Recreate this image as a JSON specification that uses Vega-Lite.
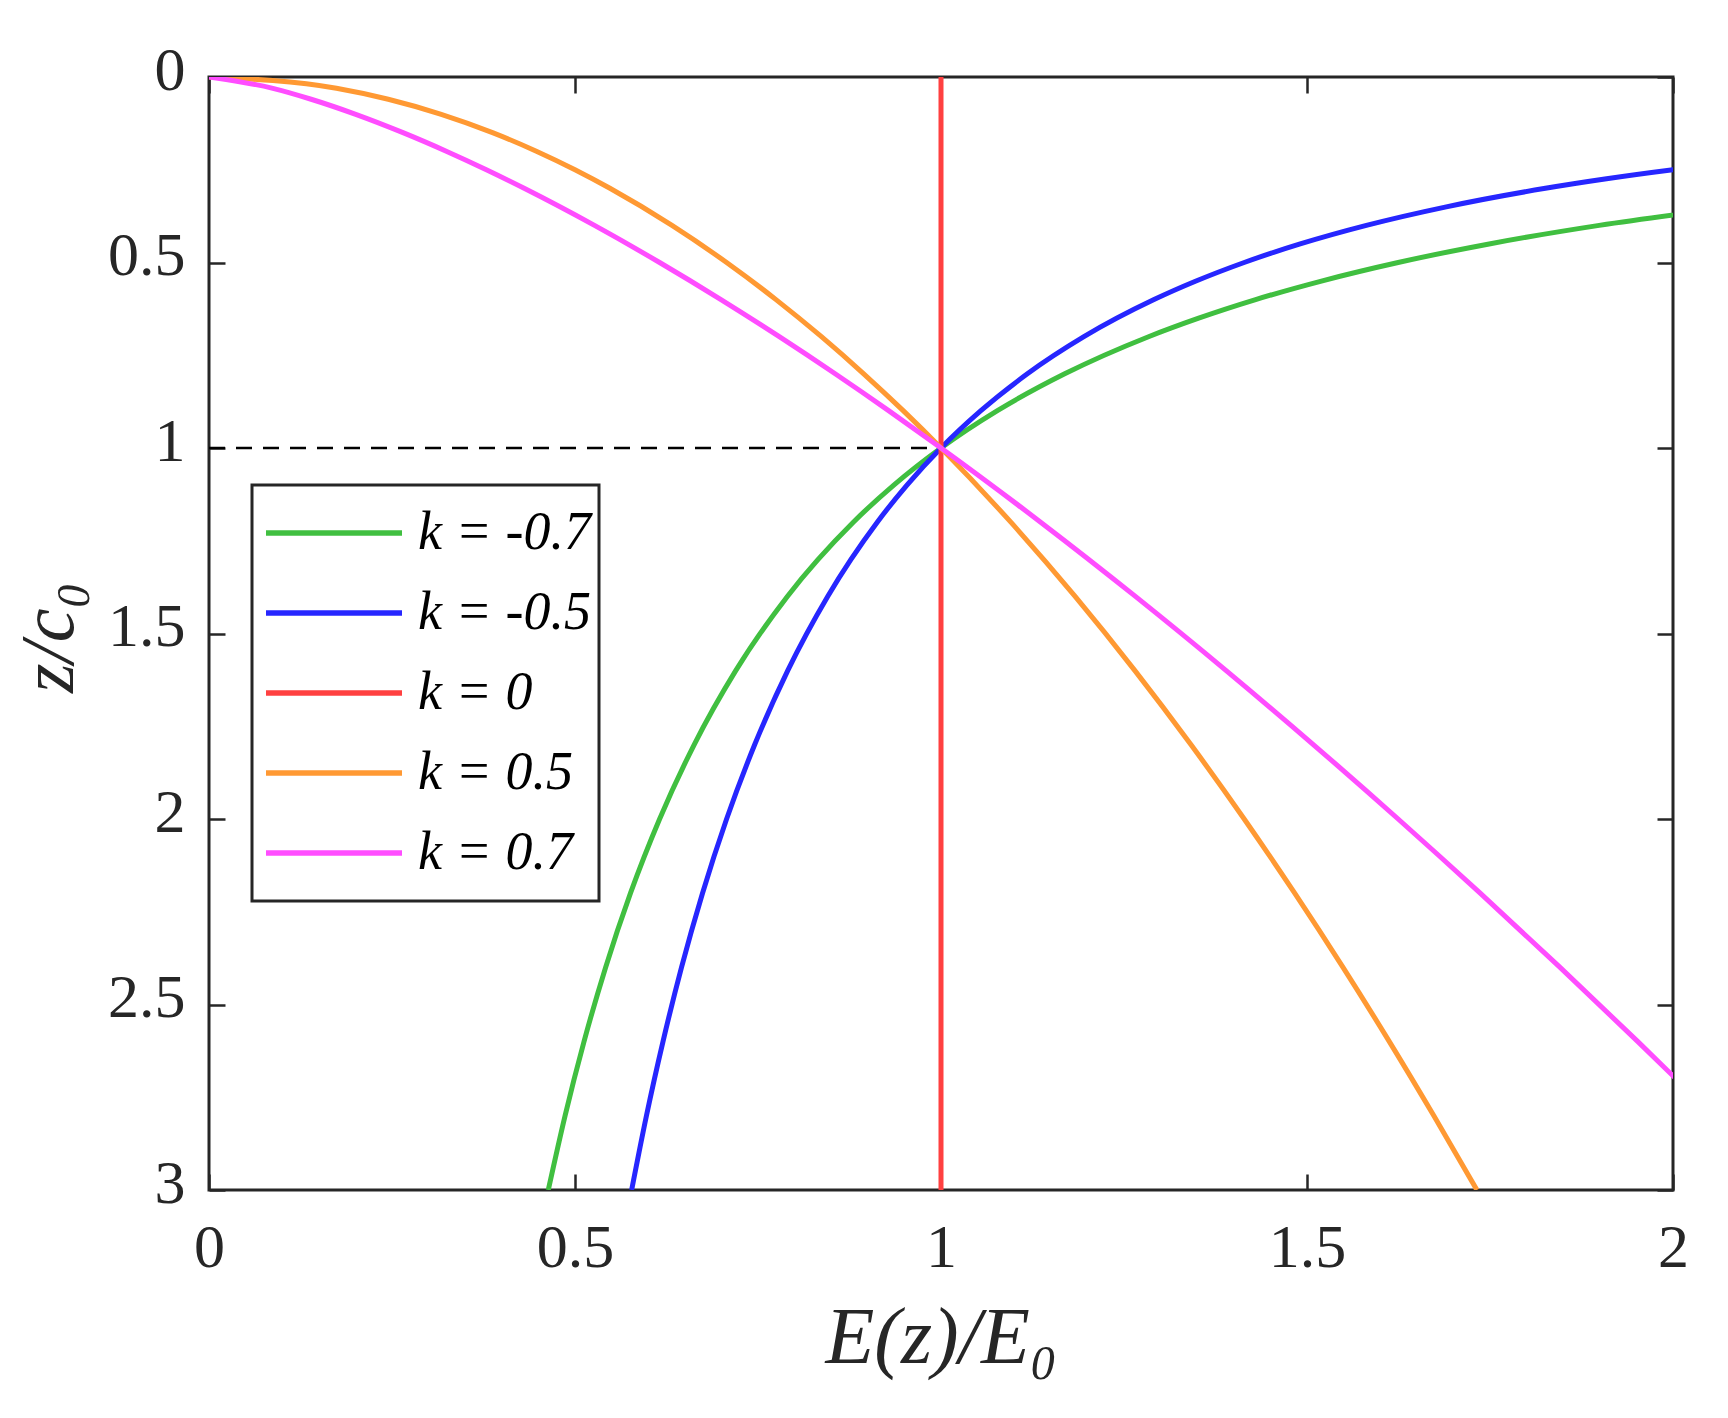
{
  "$schema": "https://vega.github.io/schema/vega-lite/v6.json",
  "width": 1464,
  "height": 1113,
  "autosize": {"type": "none"},
  "padding": {"left": 209, "top": 77, "right": 55, "bottom": 228},
  "background": "white",
  "config": {
    "view": {"stroke": "#262626", "strokeWidth": 3},
    "axis": {
      "grid": false,
      "domain": false,
      "tickColor": "#262626",
      "tickWidth": 2.5,
      "tickSize": -16,
      "labelColor": "#262626",
      "labelFont": "Liberation Serif",
      "labelFontSize": 62,
      "titleFont": "Liberation Serif",
      "titleFontStyle": "italic",
      "titleFontWeight": "normal",
      "titleFontSize": 72,
      "titleColor": "#262626",
      "labelFlush": false,
      "labelOverlap": false
    }
  },
  "datasets": {
    "curves": [
      {"k": "k = -0.7", "z": 0.35, "E": 2.0852},
      {"k": "k = -0.7", "z": 0.4, "E": 1.8991},
      {"k": "k = -0.7", "z": 0.45, "E": 1.7488},
      {"k": "k = -0.7", "z": 0.5, "E": 1.6245},
      {"k": "k = -0.7", "z": 0.55, "E": 1.5197},
      {"k": "k = -0.7", "z": 0.6, "E": 1.4298},
      {"k": "k = -0.7", "z": 0.65, "E": 1.352},
      {"k": "k = -0.7", "z": 0.7, "E": 1.2835},
      {"k": "k = -0.7", "z": 0.8, "E": 1.169},
      {"k": "k = -0.7", "z": 0.9, "E": 1.0765},
      {"k": "k = -0.7", "z": 1.0, "E": 1.0},
      {"k": "k = -0.7", "z": 1.1, "E": 0.9355},
      {"k": "k = -0.7", "z": 1.2, "E": 0.8802},
      {"k": "k = -0.7", "z": 1.4, "E": 0.7901},
      {"k": "k = -0.7", "z": 1.6, "E": 0.7196},
      {"k": "k = -0.7", "z": 1.8, "E": 0.6627},
      {"k": "k = -0.7", "z": 2.0, "E": 0.6156},
      {"k": "k = -0.7", "z": 2.2, "E": 0.5758},
      {"k": "k = -0.7", "z": 2.4, "E": 0.5418},
      {"k": "k = -0.7", "z": 2.6, "E": 0.5123},
      {"k": "k = -0.7", "z": 2.8, "E": 0.4864},
      {"k": "k = -0.7", "z": 3.0, "E": 0.4635},
      {"k": "k = -0.5", "z": 0.24, "E": 2.0412},
      {"k": "k = -0.5", "z": 0.25, "E": 2.0},
      {"k": "k = -0.5", "z": 0.275, "E": 1.9069},
      {"k": "k = -0.5", "z": 0.3, "E": 1.8257},
      {"k": "k = -0.5", "z": 0.35, "E": 1.6903},
      {"k": "k = -0.5", "z": 0.4, "E": 1.5811},
      {"k": "k = -0.5", "z": 0.45, "E": 1.4907},
      {"k": "k = -0.5", "z": 0.5, "E": 1.4142},
      {"k": "k = -0.5", "z": 0.55, "E": 1.3484},
      {"k": "k = -0.5", "z": 0.6, "E": 1.291},
      {"k": "k = -0.5", "z": 0.7, "E": 1.1952},
      {"k": "k = -0.5", "z": 0.8, "E": 1.118},
      {"k": "k = -0.5", "z": 0.9, "E": 1.0541},
      {"k": "k = -0.5", "z": 1.0, "E": 1.0},
      {"k": "k = -0.5", "z": 1.1, "E": 0.9535},
      {"k": "k = -0.5", "z": 1.2, "E": 0.9129},
      {"k": "k = -0.5", "z": 1.4, "E": 0.8452},
      {"k": "k = -0.5", "z": 1.6, "E": 0.7906},
      {"k": "k = -0.5", "z": 1.8, "E": 0.7454},
      {"k": "k = -0.5", "z": 2.0, "E": 0.7071},
      {"k": "k = -0.5", "z": 2.2, "E": 0.6742},
      {"k": "k = -0.5", "z": 2.4, "E": 0.6455},
      {"k": "k = -0.5", "z": 2.6, "E": 0.6202},
      {"k": "k = -0.5", "z": 2.8, "E": 0.5976},
      {"k": "k = -0.5", "z": 3.0, "E": 0.5774},
      {"k": "k = 0", "z": 0.0, "E": 1.0},
      {"k": "k = 0", "z": 3.0, "E": 1.0},
      {"k": "k = 0.5", "z": 0.0, "E": 0.0},
      {"k": "k = 0.5", "z": 0.0303, "E": 0.1741},
      {"k": "k = 0.5", "z": 0.06, "E": 0.2449},
      {"k": "k = 0.5", "z": 0.1, "E": 0.3162},
      {"k": "k = 0.5", "z": 0.15, "E": 0.3873},
      {"k": "k = 0.5", "z": 0.2, "E": 0.4472},
      {"k": "k = 0.5", "z": 0.25, "E": 0.5},
      {"k": "k = 0.5", "z": 0.3, "E": 0.5477},
      {"k": "k = 0.5", "z": 0.4, "E": 0.6325},
      {"k": "k = 0.5", "z": 0.5, "E": 0.7071},
      {"k": "k = 0.5", "z": 0.6, "E": 0.7746},
      {"k": "k = 0.5", "z": 0.7, "E": 0.8367},
      {"k": "k = 0.5", "z": 0.8, "E": 0.8944},
      {"k": "k = 0.5", "z": 0.9, "E": 0.9487},
      {"k": "k = 0.5", "z": 1.0, "E": 1.0},
      {"k": "k = 0.5", "z": 1.2, "E": 1.0954},
      {"k": "k = 0.5", "z": 1.4, "E": 1.1832},
      {"k": "k = 0.5", "z": 1.6, "E": 1.2649},
      {"k": "k = 0.5", "z": 1.8, "E": 1.3416},
      {"k": "k = 0.5", "z": 2.0, "E": 1.4142},
      {"k": "k = 0.5", "z": 2.2, "E": 1.4832},
      {"k": "k = 0.5", "z": 2.4, "E": 1.5492},
      {"k": "k = 0.5", "z": 2.6, "E": 1.6125},
      {"k": "k = 0.5", "z": 2.8, "E": 1.6733},
      {"k": "k = 0.5", "z": 3.0, "E": 1.7321},
      {"k": "k = 0.7", "z": 0.0, "E": 0.0},
      {"k": "k = 0.7", "z": 0.03, "E": 0.0859},
      {"k": "k = 0.7", "z": 0.06, "E": 0.1395},
      {"k": "k = 0.7", "z": 0.1, "E": 0.1995},
      {"k": "k = 0.7", "z": 0.15, "E": 0.265},
      {"k": "k = 0.7", "z": 0.2, "E": 0.3241},
      {"k": "k = 0.7", "z": 0.25, "E": 0.3789},
      {"k": "k = 0.7", "z": 0.3, "E": 0.4305},
      {"k": "k = 0.7", "z": 0.4, "E": 0.5266},
      {"k": "k = 0.7", "z": 0.5, "E": 0.6156},
      {"k": "k = 0.7", "z": 0.6, "E": 0.6994},
      {"k": "k = 0.7", "z": 0.7, "E": 0.7791},
      {"k": "k = 0.7", "z": 0.8, "E": 0.8554},
      {"k": "k = 0.7", "z": 0.9, "E": 0.9289},
      {"k": "k = 0.7", "z": 1.0, "E": 1.0},
      {"k": "k = 0.7", "z": 1.2, "E": 1.1361},
      {"k": "k = 0.7", "z": 1.4, "E": 1.2656},
      {"k": "k = 0.7", "z": 1.6, "E": 1.3896},
      {"k": "k = 0.7", "z": 1.8, "E": 1.509},
      {"k": "k = 0.7", "z": 2.0, "E": 1.6245},
      {"k": "k = 0.7", "z": 2.2, "E": 1.7366},
      {"k": "k = 0.7", "z": 2.4, "E": 1.8457},
      {"k": "k = 0.7", "z": 2.6, "E": 1.952},
      {"k": "k = 0.7", "z": 2.8, "E": 2.0559}
    ],
    "dashed": [
      {"E": 0.0, "z": 1.0},
      {"E": 1.0, "z": 1.0}
    ]
  },
  "resolve": {"axis": {"x": "independent", "y": "independent"}},
  "layer": [
    {
      "data": {"name": "dashed"},
      "mark": {"type": "line", "color": "black", "strokeWidth": 2.5, "strokeDash": [16, 11], "clip": true},
      "encoding": {
        "x": {"field": "E", "type": "quantitative", "scale": {"domain": [0, 2], "nice": false},
              "axis": {"orient": "top", "values": [0, 0.5, 1, 1.5, 2], "labels": false, "title": null}},
        "y": {"field": "z", "type": "quantitative", "scale": {"domain": [0, 3], "nice": false, "reverse": true},
              "axis": {"orient": "right", "values": [0, 0.5, 1, 1.5, 2, 2.5, 3], "labels": false, "title": null}}
      }
    },
    {
      "data": {"name": "curves"},
      "transform": [{"filter": "datum.k == 'k = -0.7' || datum.k == 'k = -0.5'"}],
      "mark": {"type": "line", "strokeWidth": 5, "interpolate": "monotone", "clip": true},
      "encoding": {
        "x": {"field": "E", "type": "quantitative", "scale": {"domain": [0, 2], "nice": false},
              "axis": {"orient": "bottom", "values": [0, 0.5, 1, 1.5, 2], "labelExpr": "'' + datum.value",
                       "labelPadding": 43, "title": "E(z)/E₀", "titleFontSize": 80, "titleY": 172, "titleBaseline": "alphabetic"}},
        "y": {"field": "z", "type": "quantitative", "scale": {"domain": [0, 3], "nice": false, "reverse": true},
              "axis": {"orient": "left", "values": [0, 0.5, 1, 1.5, 2, 2.5, 3], "labelExpr": "'' + datum.value",
                       "labelPadding": 40, "labelOffset": -7, "title": "z/c₀", "titleFontSize": 76, "titleX": -137, "titleY": 560, "titleAngle": 270, "titleBaseline": "alphabetic"}},
        "color": {"field": "k", "type": "nominal",
                  "scale": {"domain": ["k = -0.7", "k = -0.5", "k = 0", "k = 0.5", "k = 0.7"],
                            "range": ["#40BF40", "#2626FF", "#FF4040", "#FF9933", "#FF4DFF"]},
                  "legend": {"orient": "none", "legendX": 43, "legendY": 408, "title": null,
                             "symbolType": "stroke", "symbolSize": 18496, "symbolStrokeWidth": 5.5,
                             "clipHeight": 80, "rowPadding": 0, "symbolOffset": 3,
                             "labelFont": "Liberation Serif", "labelFontStyle": "italic", "labelFontSize": 54,
                             "labelColor": "black", "labelOffset": 13, "labelLimit": 400, "padding": 8,
                             "strokeColor": "#262626", "fillColor": "white",
                             "encode": {"legend": {"update": {"strokeWidth": {"value": 3}}}}}}
      }
    },
    {
      "data": {"name": "curves"},
      "transform": [{"filter": "datum.k == 'k = 0'"}],
      "mark": {"type": "line", "strokeWidth": 5, "interpolate": "linear", "clip": true},
      "encoding": {
        "x": {"field": "E", "type": "quantitative", "scale": {"domain": [0, 2], "nice": false}, "axis": null},
        "y": {"field": "z", "type": "quantitative", "scale": {"domain": [0, 3], "nice": false, "reverse": true}, "axis": null},
        "order": {"field": "z", "type": "quantitative"},
        "color": {"field": "k", "type": "nominal",
                  "scale": {"domain": ["k = -0.7", "k = -0.5", "k = 0", "k = 0.5", "k = 0.7"],
                            "range": ["#40BF40", "#2626FF", "#FF4040", "#FF9933", "#FF4DFF"]}}
      }
    },
    {
      "data": {"name": "curves"},
      "transform": [{"filter": "datum.k == 'k = 0.5' || datum.k == 'k = 0.7'"}],
      "mark": {"type": "line", "strokeWidth": 5, "interpolate": "monotone", "clip": true},
      "encoding": {
        "x": {"field": "E", "type": "quantitative", "scale": {"domain": [0, 2], "nice": false}, "axis": null},
        "y": {"field": "z", "type": "quantitative", "scale": {"domain": [0, 3], "nice": false, "reverse": true}, "axis": null},
        "color": {"field": "k", "type": "nominal",
                  "scale": {"domain": ["k = -0.7", "k = -0.5", "k = 0", "k = 0.5", "k = 0.7"],
                            "range": ["#40BF40", "#2626FF", "#FF4040", "#FF9933", "#FF4DFF"]}}
      }
    }
  ]
}
